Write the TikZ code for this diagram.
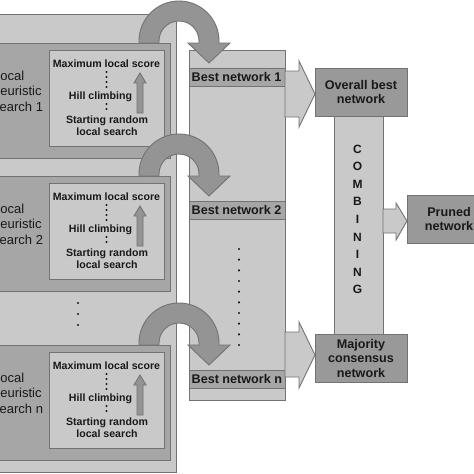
\documentclass[tikz,border=0pt]{standalone}
\usepackage{fontspec}
\setmainfont{Liberation Sans}
\definecolor{lightg}{gray}{0.79}
\definecolor{midg}{gray}{0.65}
\definecolor{boxg}{gray}{0.60}
\definecolor{arcg}{gray}{0.58}
\definecolor{edgeg}{gray}{0.45}
\definecolor{txt}{gray}{0.10}
\begin{document}
\begin{tikzpicture}[x=1pt,y=-1pt,
  panel/.style={draw=edgeg, line width=0.9pt, anchor=north west, inner sep=0pt, outer sep=0pt},
  lightpanel/.style={panel, fill=lightg},
  darkpanel/.style={panel, fill=midg},
  netpanel/.style={panel, fill=boxg, align=center, font=\fontsize{12.6}{14.5}\selectfont\bfseries, text=txt},
  boxtext/.style={font=\fontsize{10.6}{12}\selectfont\bfseries, text=txt, inner sep=0pt, align=center},
  bandtext/.style={font=\fontsize{12.6}{14.5}\selectfont\bfseries, text=txt, inner sep=0pt, anchor=west},
  sidetext/.style={font=\fontsize{13}{15.5}\selectfont, text=txt, inner sep=0pt, align=left, anchor=west},
  combtext/.style={font=\fontsize{12}{14}\selectfont\bfseries, text=txt, inner sep=0pt},
  bigarrow/.style={fill=lightg, draw=edgeg, line width=0.9pt, line join=miter},
  curvearrow/.style={fill=arcg, draw=edgeg, line width=0.9pt, line join=miter},
  dotc/.style={fill=txt}
]
\path[use as bounding box] (0,0) rectangle (474,474);
\clip (0,0) rectangle (474,474);
\fill[white] (0,0) rectangle (474,474);

% outer left box
\node[lightpanel, minimum width=196, minimum height=458] (outer) at (-20,14) {};

% middle column
\node[lightpanel, minimum width=96, minimum height=350] (col) at (189,50) {};

\foreach \T/\k [count=\i] in {43/1,176/2,345/n} {
  \node[darkpanel, minimum width=190, minimum height=115] (loc\i) at (-20,\T) {};
  \node[sidetext] (lab\i) at (-7,\T+48) {Local\\heuristic\\search \k};
  \node[lightpanel, minimum width=115, minimum height=96] (inn\i) at (49,\T+7) {};
  \node[boxtext] (max\i) at (106.5,\T+21) {Maximum local score};
  \node[boxtext] (hill\i) at (100.5,\T+54) {Hill climbing};
  \node[boxtext] (start\i) at (107,\T+83) {Starting random\\local search};
  \foreach \d in {29,34,39,44,61,66} \fill[dotc] (106.5,\T+\d) circle (1.1);
  \draw[curvearrow] (137,\T+70) -- (137,\T+40) -- (134,\T+40) -- (140,\T+30) -- (146,\T+40) -- (143,\T+40) -- (143,\T+70) -- cycle;
  % band
  \node[darkpanel, minimum width=96, minimum height=18] (band\i) at (189,\T+25) {};
  \node[bandtext] (best\i) at (191.5,\T+34) {Best network \k};
  % curved arrow
  \draw[curvearrow] (139,\T) -- (139,\T-2) arc[start angle=180,end angle=360,radius=40]
     -- (219,\T) -- (230,\T) -- (209,\T+20) -- (188,\T) -- (199,\T) -- (199,\T-2)
     arc[start angle=360,end angle=180,radius=20] -- (159,\T) -- cycle;
}

% dots
\foreach \j in {0,...,9} \fill[dotc] (239,249+\j*10.67) circle (1.2);
\foreach \y in {303,314,325} \fill[dotc] (78,\y) circle (1.2);

% combining column
\node[lightpanel, minimum width=49, minimum height=218] (comb) at (334,116) {};
\foreach \l [count=\j from 0] in {C,O,M,B,I,N,I,N,G}
  \node[combtext] (c\j) at (357.5,149+\j*17.6) {\l};

% block arrows
\draw[bigarrow] (285,71) -- (299,71) -- (299,61) -- (315,94) -- (299,127) -- (299,117) -- (285,117) -- cycle;
\draw[bigarrow] (285,332) -- (299,332) -- (299,322) -- (315,355) -- (299,388) -- (299,377) -- (285,377) -- cycle;
\draw[bigarrow] (383,209) -- (396,209) -- (396,203) -- (407,221) -- (396,240) -- (396,233) -- (383,233) -- cycle;

% network boxes
\node[netpanel, minimum width=92, minimum height=48] (ovr) at (315,68) {Overall best\\network};
\node[netpanel, minimum width=92, minimum height=48] (maj) at (315,334) {Majority\\consensus\\network};
\node[netpanel, minimum width=84, minimum height=48] (pru) at (407,195) {Pruned\\network};
\end{tikzpicture}
\end{document}
